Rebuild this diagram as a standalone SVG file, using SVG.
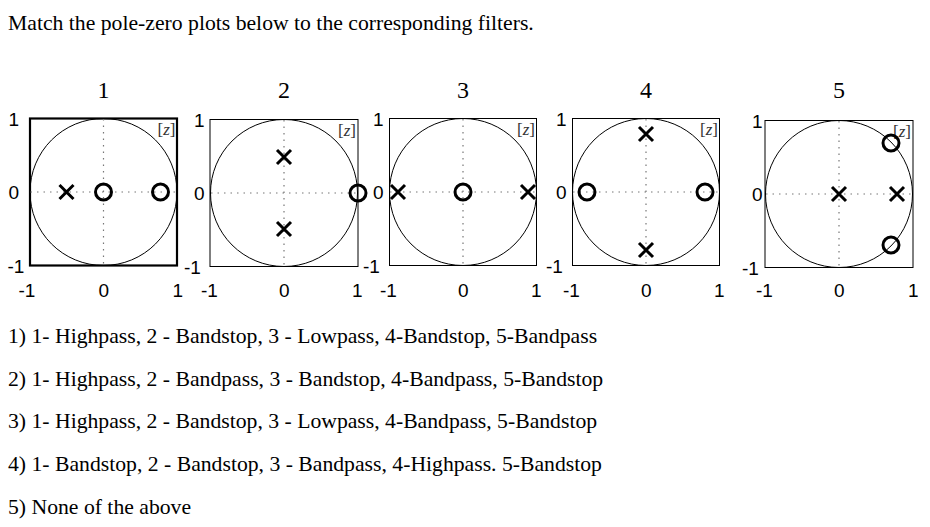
<svg xmlns="http://www.w3.org/2000/svg" width="930" height="527" viewBox="0 0 930 527">
<style>
.t{font-family:"Liberation Serif",serif;font-size:21.7px;fill:#000}
.h{font-family:"Liberation Serif",serif;font-size:24px;fill:#000;text-anchor:middle}
.n{font-family:"Liberation Sans",sans-serif;font-size:19px;fill:#000}
.z{font-family:"Liberation Serif",serif;font-size:17px;fill:#333;text-anchor:end}
.box{fill:none;stroke:#000;stroke-width:1}
.c{fill:none;stroke:#000;stroke-width:1}
.g{stroke:#777;stroke-width:1.2;stroke-dasharray:1.5 5}
.o{fill:none;stroke:#000;stroke-width:3}
.x{stroke:#000;stroke-width:3}
</style>
<defs>
<path id="X" class="x" d="M-7,-7L7,7M-7,7L7,-7"/>
</defs>
<rect width="930" height="527" fill="#fff"/>
<text class="t" x="8" y="30">Match the pole-zero plots below to the corresponding filters.</text>
<g id="plot1" transform="translate(103.5,192)">
<text class="h" x="0" y="-94">1</text>
<rect class="box" x="-73.5" y="-73.5" width="147" height="147" style="stroke-width:2.2"/>
<circle class="c" r="73.5"/>
<line class="g" x1="-73" y1="0" x2="73" y2="0"/><line class="g" x1="0" y1="-73" x2="0" y2="73"/>
<text class="z" x="72" y="-57">[<tspan font-style="italic">z</tspan>]</text>
<text class="n" x="-95" y="-66">1</text><text class="n" x="-95" y="7">0</text><text class="n" x="-96" y="81">-1</text>
<text class="n" x="-85" y="105">-1</text><text class="n" x="-5" y="105">0</text><text class="n" x="69" y="105">1</text>
<use href="#X" x="-37"/><circle class="o" r="8"/><circle class="o" cx="57" r="8"/>
</g>
<g id="plot2" transform="translate(284,193)">
<text class="h" x="0" y="-95">2</text>
<rect class="box" x="-74" y="-73.5" width="148" height="147"/>
<circle class="c" r="73.5"/>
<line class="g" x1="-73" y1="0" x2="73" y2="0"/><line class="g" x1="0" y1="-73" x2="0" y2="73"/>
<text class="z" x="72" y="-57">[<tspan font-style="italic">z</tspan>]</text>
<text class="n" x="-90" y="-66">1</text><text class="n" x="-90" y="7">0</text><text class="n" x="-100" y="81">-1</text>
<text class="n" x="-83" y="104">-1</text><text class="n" x="-5" y="104">0</text><text class="n" x="68" y="104">1</text>
<use href="#X" y="-36"/><use href="#X" y="36"/><circle class="o" cx="74" r="8"/>
</g>
<g id="plot3" transform="translate(463,192)">
<text class="h" x="0" y="-94">3</text>
<rect class="box" x="-73.5" y="-73.5" width="147" height="147"/>
<circle class="c" r="73.5"/>
<line class="g" x1="-73" y1="0" x2="73" y2="0"/><line class="g" x1="0" y1="-73" x2="0" y2="73"/>
<text class="z" x="72" y="-57">[<tspan font-style="italic">z</tspan>]</text>
<text class="n" x="-90" y="-66">1</text><text class="n" x="-90" y="7">0</text><text class="n" x="-100" y="81">-1</text>
<text class="n" x="-83" y="105">-1</text><text class="n" x="-5" y="105">0</text><text class="n" x="68" y="105">1</text>
<use href="#X" x="-65"/><use href="#X" x="65"/><circle class="o" r="8"/>
</g>
<g id="plot4" transform="translate(646,192)">
<text class="h" x="0" y="-94">4</text>
<rect class="box" x="-73.5" y="-73.5" width="147" height="147"/>
<circle class="c" r="73.5"/>
<line class="g" x1="-73" y1="0" x2="73" y2="0"/><line class="g" x1="0" y1="-73" x2="0" y2="73"/>
<text class="z" x="72" y="-57">[<tspan font-style="italic">z</tspan>]</text>
<text class="n" x="-90" y="-66">1</text><text class="n" x="-90" y="7">0</text><text class="n" x="-100" y="81">-1</text>
<text class="n" x="-83" y="105">-1</text><text class="n" x="-5" y="105">0</text><text class="n" x="68" y="105">1</text>
<use href="#X" y="-58"/><use href="#X" y="58"/><circle class="o" cx="-59" r="8"/><circle class="o" cx="59" r="8"/>
</g>
<g id="plot5" transform="translate(839,194)">
<text class="h" x="0" y="-96">5</text>
<rect class="box" x="-74" y="-73.5" width="148" height="147"/>
<circle class="c" r="73.5"/>
<line class="g" x1="-73" y1="0" x2="73" y2="0"/><line class="g" x1="0" y1="-73" x2="0" y2="73"/>
<text class="z" x="72" y="-57">[<tspan font-style="italic">z</tspan>]</text>
<text class="n" x="-87" y="-66">1</text><text class="n" x="-87" y="7">0</text><text class="n" x="-97" y="81">-1</text>
<text class="n" x="-83" y="103">-1</text><text class="n" x="-5" y="103">0</text><text class="n" x="69" y="103">1</text>
<use href="#X"/><use href="#X" x="58"/><circle class="o" cx="52" cy="-51" r="8"/><circle class="o" cx="52" cy="51" r="8"/>
</g>
<text class="t" x="8" y="343">1) 1- Highpass, 2 - Bandstop, 3 - Lowpass, 4-Bandstop, 5-Bandpass</text>
<text class="t" x="8" y="386">2) 1- Highpass, 2 - Bandpass, 3 - Bandstop, 4-Bandpass, 5-Bandstop</text>
<text class="t" x="8" y="428">3) 1- Highpass, 2 - Bandstop, 3 - Lowpass, 4-Bandpass, 5-Bandstop</text>
<text class="t" x="8" y="471">4) 1- Bandstop, 2 - Bandstop, 3 - Bandpass, 4-Highpass. 5-Bandstop</text>
<text class="t" x="8" y="514">5) None of the above</text>
</svg>
